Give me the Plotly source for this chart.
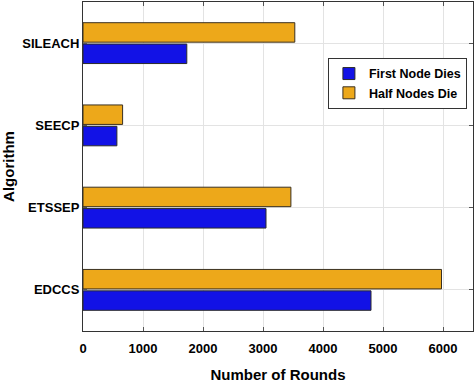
import plotly.graph_objects as go

algorithms = ["EDCCS", "ETSSEP", "SEECP", "SILEACH"]
first_node_dies = [4800, 3050, 565, 1730]
half_nodes_die = [5975, 3465, 660, 3530]
x_ticks = [0, 1000, 2000, 3000, 4000, 5000, 6000]

FONT = "Liberation Sans, Arial, sans-serif"

fig = go.Figure()
fig.add_trace(go.Bar(
    y=algorithms, x=first_node_dies, orientation="h", name="First Node Dies",
    marker=dict(color="#1212E6", line=dict(color="#2a2a2a", width=1)),
))
fig.add_trace(go.Bar(
    y=algorithms, x=half_nodes_die, orientation="h", name="Half Nodes Die",
    marker=dict(color="#EDA81A", line=dict(color="#3a3020", width=1)),
))

axis_common = dict(
    showline=True, linecolor="#333333", linewidth=1, mirror="ticks",
    ticks="inside", ticklen=4, tickcolor="#555555",
    showgrid=True, gridcolor="#e3e3e3", gridwidth=1, zeroline=False,
    automargin=False,
)

fig.update_layout(
    width=474, height=384,
    margin=dict(l=83, r=1, t=2, b=53),
    paper_bgcolor="white", plot_bgcolor="white",
    barmode="group", bargap=0.48, bargroupgap=0.09,
    font=dict(family=FONT, color="black", size=14, weight="bold"),
    xaxis=dict(
        range=[0, 6500], tickvals=x_ticks, ticktext=[str(v) for v in x_ticks],
        tickfont=dict(size=13, family=FONT, weight="bold"),
        ticklabelstandoff=5,
        title=dict(text="Number of Rounds", font=dict(size=15, family=FONT, weight="bold"), standoff=14),
        **axis_common,
    ),
    yaxis=dict(
        categoryorder="array", categoryarray=algorithms,
        range=[-0.5, 3.5],
        tickfont=dict(size=13, family=FONT, weight="bold"),
        title=dict(text="Algorithm", font=dict(size=15, family=FONT, weight="bold"), standoff=10),
        **axis_common,
    ),
    showlegend=True,
    legend=dict(
        x=0.628, y=0.83, xanchor="left", yanchor="top",
        bgcolor="white", bordercolor="#333333", borderwidth=1,
        font=dict(size=12.5, family=FONT, weight="bold"),
        traceorder="normal", itemwidth=30,
        tracegroupgap=0,
    ),
)

fig.write_html(
    "out.html",
    config={"displayModeBar": False},
    post_script="document.body.style.margin='0';document.body.style.overflow='hidden';",
)
